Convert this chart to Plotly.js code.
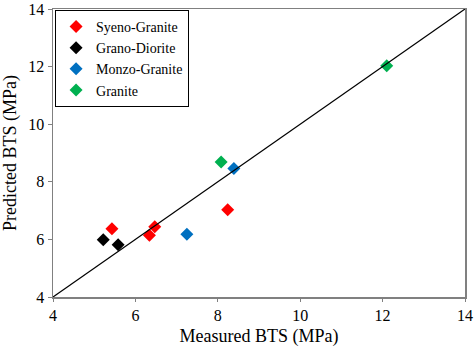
<!DOCTYPE html>
<html>
<head>
<meta charset="utf-8">
<script src="https://cdn.plot.ly/plotly-3.0.1.min.js"></script>
<style>html,body{margin:0;padding:0;background:#fff}#chart{width:474px;height:356px}</style>
</head>
<body>
<div id="chart"></div>
<script>
const seriesNames = ["Syeno-Granite", "Grano-Diorite", "Monzo-Granite", "Granite"];
const seriesColors = ["#ff0000", "#000000", "#0070c0", "#00b050"];
const syenoMeasured = [5.43, 6.34, 6.47, 8.24];
const syenoPredicted = [6.37, 6.14, 6.44, 7.03];
const granoMeasured = [5.22, 5.58];
const granoPredicted = [5.99, 5.81];
const monzoMeasured = [7.25, 8.39];
const monzoPredicted = [6.18, 8.46];
const graniteMeasured = [8.08, 12.10];
const granitePredicted = [8.69, 12.03];
const lineX = [4, 14];
const lineY = [4, 14];
const xTicks = [4, 6, 8, 10, 12, 14];
const yTicks = [4, 6, 8, 10, 12, 14];

const xs = [syenoMeasured, granoMeasured, monzoMeasured, graniteMeasured];
const ys = [syenoPredicted, granoPredicted, monzoPredicted, granitePredicted];

const traces = seriesNames.map((n, i) => ({
  type: 'scatter', mode: 'markers', name: n,
  x: xs[i], y: ys[i],
  marker: {symbol: 'diamond', size: 10, color: seriesColors[i]},
  cliponaxis: false
}));
traces.push({
  type: 'scatter', mode: 'lines', x: lineX, y: lineY,
  line: {color: '#000', width: 1.2}, showlegend: false, hoverinfo: 'skip'
});

const fam = 'Times New Roman, Liberation Serif, serif';
const layout = {
  width: 474, height: 356,
  margin: {l: 53, r: 9, t: 9, b: 59},
  paper_bgcolor: '#fff', plot_bgcolor: '#fff',
  font: {family: fam, color: '#000', size: 15},
  showlegend: true,
  legend: {
    x: 0.005, y: 0.997, xanchor: 'left', yanchor: 'top',
    bgcolor: '#fff', bordercolor: '#000', borderwidth: 1,
    font: {family: fam, color: '#000', size: 14},
    itemwidth: 30, tracegroupgap: 0
  },
  xaxis: {
    range: [4, 14], tickvals: xTicks, ticktext: xTicks.map(String),
    showgrid: false, zeroline: false, showline: true, linecolor: '#808080', linewidth: 1.5,
    mirror: true, ticks: 'outside', ticklen: 3, tickcolor: '#808080',
    tickfont: {family: fam, color: '#000', size: 16},
    title: {text: 'Measured BTS (MPa)', font: {family: fam, color: '#000', size: 18}, standoff: 6}
  },
  yaxis: {
    range: [4, 14], tickvals: yTicks, ticktext: yTicks.map(String),
    showgrid: false, zeroline: false, showline: true, linecolor: '#808080', linewidth: 1.5,
    mirror: true, ticks: 'outside', ticklen: 4, tickcolor: '#808080',
    tickfont: {family: fam, color: '#000', size: 16},
    title: {text: 'Predicted BTS (MPa)', font: {family: fam, color: '#000', size: 18}, standoff: 8}
  }
};
Plotly.newPlot('chart', traces, layout, {displayModeBar: false, staticPlot: true});
</script>
</body>
</html>
